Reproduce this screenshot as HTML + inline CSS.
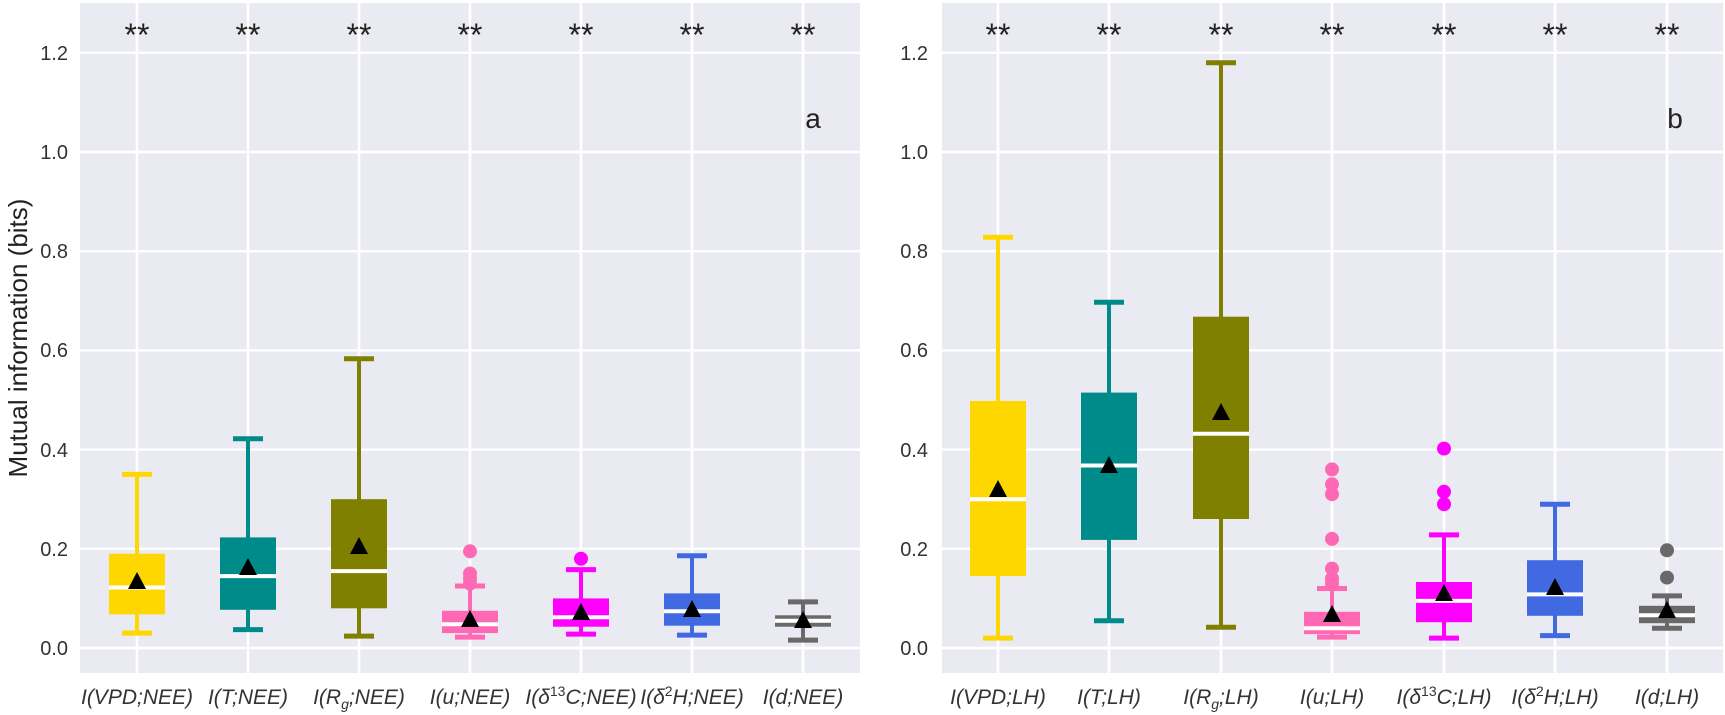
<!DOCTYPE html>
<html><head><meta charset="utf-8"><style>
html,body{margin:0;padding:0;background:#fff;}
svg{display:block;font-family:"Liberation Sans",sans-serif;}
</style></head><body>
<svg width="1725" height="715" viewBox="0 0 1725 715" xmlns="http://www.w3.org/2000/svg">
<rect x="80" y="3" width="780" height="670" fill="#EAEAF2"/>
<rect x="942" y="3" width="781" height="670" fill="#EAEAF2"/>
<g stroke="#fff" stroke-width="2.5">
<line x1="80" x2="860" y1="648" y2="648"/><line x1="80" x2="860" y1="548.8" y2="548.8"/><line x1="80" x2="860" y1="449.6" y2="449.6"/><line x1="80" x2="860" y1="350.4" y2="350.4"/><line x1="80" x2="860" y1="251.2" y2="251.2"/><line x1="80" x2="860" y1="152" y2="152"/><line x1="80" x2="860" y1="52.8" y2="52.8"/>
<line x1="942" x2="1723" y1="648" y2="648"/><line x1="942" x2="1723" y1="548.8" y2="548.8"/><line x1="942" x2="1723" y1="449.6" y2="449.6"/><line x1="942" x2="1723" y1="350.4" y2="350.4"/><line x1="942" x2="1723" y1="251.2" y2="251.2"/><line x1="942" x2="1723" y1="152" y2="152"/><line x1="942" x2="1723" y1="52.8" y2="52.8"/>
<line x1="137" x2="137" y1="3" y2="673"/><line x1="248" x2="248" y1="3" y2="673"/><line x1="359" x2="359" y1="3" y2="673"/><line x1="470" x2="470" y1="3" y2="673"/><line x1="581" x2="581" y1="3" y2="673"/><line x1="692" x2="692" y1="3" y2="673"/><line x1="803" x2="803" y1="3" y2="673"/>
<line x1="998" x2="998" y1="3" y2="673"/><line x1="1109" x2="1109" y1="3" y2="673"/><line x1="1221" x2="1221" y1="3" y2="673"/><line x1="1332" x2="1332" y1="3" y2="673"/><line x1="1444" x2="1444" y1="3" y2="673"/><line x1="1555" x2="1555" y1="3" y2="673"/><line x1="1667" x2="1667" y1="3" y2="673"/>
</g>

<g font-size="20" fill="#333" text-anchor="end">
<text x="68" y="655">0.0</text><text x="68" y="556">0.2</text><text x="68" y="457">0.4</text><text x="68" y="357">0.6</text><text x="68" y="258">0.8</text><text x="68" y="159">1.0</text><text x="68" y="60">1.2</text>
<text x="928" y="655">0.0</text><text x="928" y="556">0.2</text><text x="928" y="457">0.4</text><text x="928" y="357">0.6</text><text x="928" y="258">0.8</text><text x="928" y="159">1.0</text><text x="928" y="60">1.2</text>
</g>
<text transform="translate(27,338) rotate(-90)" font-size="26" fill="#222" text-anchor="middle">Mutual information (bits)</text>

<g font-size="32" fill="#222" text-anchor="middle">
<text x="137" y="46">**</text><text x="248" y="46">**</text><text x="359" y="46">**</text><text x="470" y="46">**</text><text x="581" y="46">**</text><text x="692" y="46">**</text><text x="803" y="46">**</text>
<text x="998" y="46">**</text><text x="1109" y="46">**</text><text x="1221" y="46">**</text><text x="1332" y="46">**</text><text x="1444" y="46">**</text><text x="1555" y="46">**</text><text x="1667" y="46">**</text>
</g>
<text x="813" y="128" font-size="28" fill="#222" text-anchor="middle">a</text>
<text x="1675" y="128" font-size="28" fill="#222" text-anchor="middle">b</text>

<g font-size="21" fill="#333" font-style="italic" text-anchor="middle">
<text x="137" y="704">I(VPD;NEE)</text><text x="248" y="704">I(T;NEE)</text><text x="359" y="704">I(R<tspan font-size="14" dy="5">g</tspan><tspan dy="-5">;NEE)</tspan></text><text x="470" y="704">I(u;NEE)</text><text x="581" y="704">I(δ<tspan font-size="14" dy="-8" font-style="normal">13</tspan><tspan dy="8">C;NEE)</tspan></text><text x="692" y="704">I(δ<tspan font-size="14" dy="-8" font-style="normal">2</tspan><tspan dy="8">H;NEE)</tspan></text><text x="803" y="704">I(d;NEE)</text>
<text x="998" y="704">I(VPD;LH)</text><text x="1109" y="704">I(T;LH)</text><text x="1221" y="704">I(R<tspan font-size="14" dy="5">g</tspan><tspan dy="-5">;LH)</tspan></text><text x="1332" y="704">I(u;LH)</text><text x="1444" y="704">I(δ<tspan font-size="14" dy="-8" font-style="normal">13</tspan><tspan dy="8">C;LH)</tspan></text><text x="1555" y="704">I(δ<tspan font-size="14" dy="-8" font-style="normal">2</tspan><tspan dy="8">H;LH)</tspan></text><text x="1667" y="704">I(d;LH)</text>
</g>

<g stroke="#FFD700" stroke-width="4" fill="#FFD700"><line x1="137" x2="137" y1="633.1" y2="474.4"/><line x1="122" x2="152" y1="633.1" y2="633.1" stroke-width="5"/><line x1="122" x2="152" y1="474.4" y2="474.4" stroke-width="5"/><rect x="109" y="553.8" width="56" height="60.5" stroke="none"/></g>
<line x1="109" x2="165" y1="587.5" y2="587.5" stroke="#fff" stroke-width="4"/><polygon points="137,572 128,589 146,589" fill="#000"/>
<g stroke="#008B8B" stroke-width="4" fill="#008B8B"><line x1="248" x2="248" y1="629.6" y2="438.7"/><line x1="233" x2="263" y1="629.6" y2="629.6" stroke-width="5"/><line x1="233" x2="263" y1="438.7" y2="438.7" stroke-width="5"/><rect x="220" y="537.4" width="56" height="72.4" stroke="none"/></g>
<line x1="220" x2="276" y1="576.1" y2="576.1" stroke="#fff" stroke-width="4"/><polygon points="248,558 239,575 257,575" fill="#000"/>
<g stroke="#808000" stroke-width="4" fill="#808000"><line x1="359" x2="359" y1="636.1" y2="358.8"/><line x1="344" x2="374" y1="636.1" y2="636.1" stroke-width="5"/><line x1="344" x2="374" y1="358.8" y2="358.8" stroke-width="5"/><rect x="331" y="499.2" width="56" height="109.1" stroke="none"/></g>
<line x1="331" x2="387" y1="571.1" y2="571.1" stroke="#fff" stroke-width="4"/><polygon points="359,537 350,554 368,554" fill="#000"/>
<g stroke="#FF69B4" stroke-width="4" fill="#FF69B4"><line x1="470" x2="470" y1="637.1" y2="586"/><line x1="455" x2="485" y1="637.1" y2="637.1" stroke-width="5"/><line x1="455" x2="485" y1="586" y2="586" stroke-width="5"/><rect x="442" y="610.8" width="56" height="22.3" stroke="none"/>
<circle cx="470" cy="551.3" r="7" stroke="none"/><circle cx="470" cy="573.6" r="7" stroke="none"/><circle cx="470" cy="578.6" r="7" stroke="none"/><circle cx="470" cy="583.5" r="7" stroke="none"/></g>
<line x1="442" x2="498" y1="624.2" y2="624.2" stroke="#fff" stroke-width="4"/><polygon points="470,610 461,627 479,627" fill="#000"/>
<g stroke="#FF00FF" stroke-width="4" fill="#FF00FF"><line x1="581" x2="581" y1="634.1" y2="569.6"/><line x1="566" x2="596" y1="634.1" y2="634.1" stroke-width="5"/><line x1="566" x2="596" y1="569.6" y2="569.6" stroke-width="5"/><rect x="553" y="598.4" width="56" height="28.3" stroke="none"/><circle cx="581" cy="558.7" r="7" stroke="none"/></g>
<line x1="553" x2="609" y1="617.2" y2="617.2" stroke="#fff" stroke-width="4"/><polygon points="581,603 572,620 590,620" fill="#000"/>
<g stroke="#4169E1" stroke-width="4" fill="#4169E1"><line x1="692" x2="692" y1="635.1" y2="555.7"/><line x1="677" x2="707" y1="635.1" y2="635.1" stroke-width="5"/><line x1="677" x2="707" y1="555.7" y2="555.7" stroke-width="5"/><rect x="664" y="593.4" width="56" height="32.3" stroke="none"/></g>
<line x1="664" x2="720" y1="611.3" y2="611.3" stroke="#fff" stroke-width="4"/><polygon points="692,600 683,617 701,617" fill="#000"/>
<g stroke="#696969" stroke-width="4" fill="#696969"><line x1="803" x2="803" y1="640.1" y2="601.9"/><line x1="788" x2="818" y1="640.1" y2="640.1" stroke-width="5"/><line x1="788" x2="818" y1="601.9" y2="601.9" stroke-width="5"/><rect x="775" y="615.3" width="56" height="11.4" stroke="none"/></g>
<line x1="775" x2="831" y1="620.7" y2="620.7" stroke="#fff" stroke-width="4"/><polygon points="803,611 794,628 812,628" fill="#000"/>

<g stroke="#FFD700" stroke-width="4" fill="#FFD700"><line x1="998" x2="998" y1="638.1" y2="237.3"/><line x1="983" x2="1013" y1="638.1" y2="638.1" stroke-width="5"/><line x1="983" x2="1013" y1="237.3" y2="237.3" stroke-width="5"/><rect x="970" y="401" width="56" height="175.1" stroke="none"/></g>
<line x1="970" x2="1026" y1="499.2" y2="499.2" stroke="#fff" stroke-width="4"/><polygon points="998,480 989,497 1007,497" fill="#000"/>
<g stroke="#008B8B" stroke-width="4" fill="#008B8B"><line x1="1109" x2="1109" y1="620.7" y2="302.3"/><line x1="1094" x2="1124" y1="620.7" y2="620.7" stroke-width="5"/><line x1="1094" x2="1124" y1="302.3" y2="302.3" stroke-width="5"/><rect x="1081" y="392.6" width="56" height="147.3" stroke="none"/></g>
<line x1="1081" x2="1137" y1="465.5" y2="465.5" stroke="#fff" stroke-width="4"/><polygon points="1109,456 1100,473 1118,473" fill="#000"/>
<g stroke="#808000" stroke-width="4" fill="#808000"><line x1="1221" x2="1221" y1="627.2" y2="62.7"/><line x1="1206" x2="1236" y1="627.2" y2="627.2" stroke-width="5"/><line x1="1206" x2="1236" y1="62.7" y2="62.7" stroke-width="5"/><rect x="1193" y="316.7" width="56" height="202.3" stroke="none"/></g>
<line x1="1193" x2="1249" y1="433.7" y2="433.7" stroke="#fff" stroke-width="4"/><polygon points="1221,403 1212,420 1230,420" fill="#000"/>
<g stroke="#FF69B4" stroke-width="4" fill="#FF69B4"><line x1="1332" x2="1332" y1="637.1" y2="588.5"/><line x1="1317" x2="1347" y1="637.1" y2="637.1" stroke-width="5"/><line x1="1317" x2="1347" y1="588.5" y2="588.5" stroke-width="5"/><rect x="1304" y="611.8" width="56" height="22.3" stroke="none"/>
<circle cx="1332" cy="469.4" r="7" stroke="none"/><circle cx="1332" cy="484.3" r="7" stroke="none"/><circle cx="1332" cy="494.2" r="7" stroke="none"/><circle cx="1332" cy="538.9" r="7" stroke="none"/><circle cx="1332" cy="568.6" r="7" stroke="none"/><circle cx="1332" cy="578.6" r="7" stroke="none"/><circle cx="1332" cy="583.5" r="7" stroke="none"/></g>
<line x1="1304" x2="1360" y1="628.2" y2="628.2" stroke="#fff" stroke-width="4"/><polygon points="1332,605 1323,622 1341,622" fill="#000"/>
<g stroke="#FF00FF" stroke-width="4" fill="#FF00FF"><line x1="1444" x2="1444" y1="638.1" y2="534.9"/><line x1="1429" x2="1459" y1="638.1" y2="638.1" stroke-width="5"/><line x1="1429" x2="1459" y1="534.9" y2="534.9" stroke-width="5"/><rect x="1416" y="582" width="56" height="40.2" stroke="none"/>
<circle cx="1444" cy="448.6" r="7" stroke="none"/><circle cx="1444" cy="491.8" r="7" stroke="none"/><circle cx="1444" cy="504.2" r="7" stroke="none"/></g>
<line x1="1416" x2="1472" y1="600.9" y2="600.9" stroke="#fff" stroke-width="4"/><polygon points="1444,584 1435,601 1453,601" fill="#000"/>
<g stroke="#4169E1" stroke-width="4" fill="#4169E1"><line x1="1555" x2="1555" y1="635.6" y2="504.2"/><line x1="1540" x2="1570" y1="635.6" y2="635.6" stroke-width="5"/><line x1="1540" x2="1570" y1="504.2" y2="504.2" stroke-width="5"/><rect x="1527" y="560.2" width="56" height="55.6" stroke="none"/></g>
<line x1="1527" x2="1583" y1="594.4" y2="594.4" stroke="#fff" stroke-width="4"/><polygon points="1555,578 1546,595 1564,595" fill="#000"/>
<g stroke="#696969" stroke-width="4" fill="#696969"><line x1="1667" x2="1667" y1="628.2" y2="595.9"/><line x1="1652" x2="1682" y1="628.2" y2="628.2" stroke-width="5"/><line x1="1652" x2="1682" y1="595.9" y2="595.9" stroke-width="5"/><rect x="1639" y="605.8" width="56" height="17.4" stroke="none"/>
<circle cx="1667" cy="550.3" r="7" stroke="none"/><circle cx="1667" cy="577.6" r="7" stroke="none"/></g>
<line x1="1639" x2="1695" y1="615.3" y2="615.3" stroke="#fff" stroke-width="4"/><polygon points="1667,601 1658,618 1676,618" fill="#000"/>
</svg>
</body></html>
